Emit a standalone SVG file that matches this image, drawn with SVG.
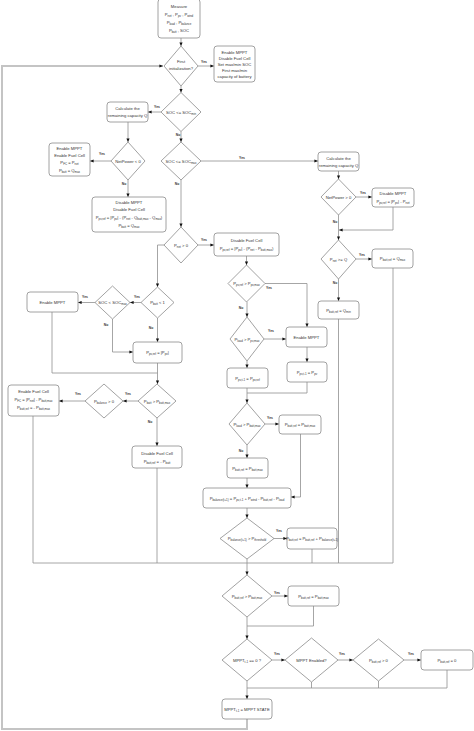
<svg xmlns="http://www.w3.org/2000/svg" width="474" height="731" viewBox="0 0 474 731">
<defs>
<style>
.b{fill:#fff;stroke:#8a8a8a;stroke-width:0.8}
.d{fill:#fff;stroke:#8a8a8a;stroke-width:0.8}
.c{fill:none;stroke:#8f8f8f;stroke-width:0.8}
.loop{fill:none;stroke:#c4c4c4;stroke-width:2}
.t{font-family:"Liberation Sans",Arial,sans-serif;font-size:4.2px;fill:#333;text-anchor:middle}
.s{font-size:2.9px;baseline-shift:-0.9px}
.l{font-family:"Liberation Sans",Arial,sans-serif;font-size:3.4px;font-weight:bold;fill:#333;text-anchor:middle}
</style>
<marker id="a" markerWidth="4" markerHeight="4" refX="3.6" refY="2" orient="auto" markerUnits="userSpaceOnUse"><path d="M0,0.4 L3.6,2 L0,3.6 z" fill="#111"/></marker>
</defs>
<rect width="474" height="731" fill="#fff"/>

<g id="connectors">
<path class="loop" d="M247,719 V729 H2 V66 H163" marker-end="url(#a)"/>
<path class="c" d="M181,38 V46" marker-end="url(#a)"/>
<path class="c" d="M198,66 H214" marker-end="url(#a)"/>
<path class="c" d="M181,86 V92.5" marker-end="url(#a)"/>
<path class="c" d="M161,112 H148" marker-end="url(#a)"/>
<path class="c" d="M201,161 H318" marker-end="url(#a)"/>
<path class="c" d="M181,131.5 V142" marker-end="url(#a)"/>
<path class="c" d="M128,122 V142" marker-end="url(#a)"/>
<path class="c" d="M111,161 H90" marker-end="url(#a)"/>
<path class="c" d="M128,180 V197" marker-end="url(#a)"/>
<path class="c" d="M338.5,171 V179" marker-end="url(#a)"/>
<path class="c" d="M356,197 H372" marker-end="url(#a)"/>
<path class="c" d="M338.5,215 V240" marker-end="url(#a)"/>
<path class="c" d="M393,207 V230 H339" marker-end="url(#a)"/>
<path class="c" d="M356,259 H372" marker-end="url(#a)"/>
<path class="c" d="M338.5,279 V301" marker-end="url(#a)"/>
<path class="c" d="M393,268 V563 H33 V416"/>
<path class="c" d="M338.5,319 V563"/>
<path class="c" d="M181,180 V227" marker-end="url(#a)"/>
<path class="c" d="M198,245 H214" marker-end="url(#a)"/>
<path class="c" d="M164,245 H157.5 V287" marker-end="url(#a)"/>
<path class="c" d="M246.5,256 V265" marker-end="url(#a)"/>
<path class="c" d="M265,283.5 H307 V327" marker-end="url(#a)"/>
<path class="c" d="M247,302 V317" marker-end="url(#a)"/>
<path class="c" d="M264,339 H286" marker-end="url(#a)"/>
<path class="c" d="M307,347 V362" marker-end="url(#a)"/>
<path class="c" d="M247,361 V368" marker-end="url(#a)"/>
<path class="c" d="M247,388 V403" marker-end="url(#a)"/>
<path class="c" d="M307,382 V393 H247"/>
<path class="c" d="M265,424 H279" marker-end="url(#a)"/>
<path class="c" d="M300.5,434 V497 H291" marker-end="url(#a)"/>
<path class="c" d="M247,445 V458" marker-end="url(#a)"/>
<path class="c" d="M247,478 V488" marker-end="url(#a)"/>
<path class="c" d="M247,508 V518" marker-end="url(#a)"/>
<path class="c" d="M274,538.5 H287" marker-end="url(#a)"/>
<path class="c" d="M312,549 V563"/>
<path class="c" d="M247,559 V575" marker-end="url(#a)"/>
<path class="c" d="M157,468 V563"/>
<path class="c" d="M141,302.5 H130" marker-end="url(#a)"/>
<path class="c" d="M95,302.5 H78" marker-end="url(#a)"/>
<path class="c" d="M157.5,318 V342" marker-end="url(#a)"/>
<path class="c" d="M112.5,319 V352 H133" marker-end="url(#a)"/>
<path class="c" d="M52,312 V373 H157.5"/>
<path class="c" d="M157.5,363 V384" marker-end="url(#a)"/>
<path class="c" d="M138,401 H123" marker-end="url(#a)"/>
<path class="c" d="M85,401 H59" marker-end="url(#a)"/>
<path class="c" d="M157,418 V446" marker-end="url(#a)"/>
<path class="c" d="M272,596 H288" marker-end="url(#a)"/>
<path class="c" d="M313.5,606 V626 H247"/>
<path class="c" d="M247,617 V639" marker-end="url(#a)"/>
<path class="c" d="M272,660 H285" marker-end="url(#a)"/>
<path class="c" d="M338,660 H353" marker-end="url(#a)"/>
<path class="c" d="M404,660 H421" marker-end="url(#a)"/>
<path class="c" d="M447,670 V688 H247"/>
<path class="c" d="M378.5,681 V688"/>
<path class="c" d="M311.5,682 V688"/>
<path class="c" d="M247,681 V699" marker-end="url(#a)"/>
<text class="l" x="204" y="63">Yes</text>
<text class="l" x="157" y="108">Yes</text>
<text class="l" x="178" y="136">No</text>
<text class="l" x="242" y="159">Yes</text>
<text class="l" x="177" y="185">No</text>
<text class="l" x="102" y="155">Yes</text>
<text class="l" x="124" y="185">No</text>
<text class="l" x="363" y="194">Yes</text>
<text class="l" x="335" y="223">No</text>
<text class="l" x="362" y="256">Yes</text>
<text class="l" x="335" y="284">No</text>
<text class="l" x="204" y="241">Yes</text>
<text class="l" x="269" y="289">Yes</text>
<text class="l" x="241" y="309">No</text>
<text class="l" x="271" y="332">Yes</text>
<text class="l" x="270" y="419">Yes</text>
<text class="l" x="241" y="452">No</text>
<text class="l" x="279" y="532">Yes</text>
<text class="l" x="137" y="298">Yes</text>
<text class="l" x="151" y="329">No</text>
<text class="l" x="85" y="298">Yes</text>
<text class="l" x="106" y="326">No</text>
<text class="l" x="128" y="395">Yes</text>
<text class="l" x="150" y="423">No</text>
<text class="l" x="78" y="395">Yes</text>
<text class="l" x="277" y="594">Yes</text>
<text class="l" x="277" y="655">Yes</text>
<text class="l" x="342" y="655">Yes</text>
<text class="l" x="411" y="655">Yes</text>
</g>

<g id="measure"><rect class="b" x="158" y="-1" width="42" height="39" rx="3"/>
<text class="t" x="179" y="8">Measure</text>
<text class="t" x="179" y="16">P<tspan class="s">net</tspan> , P<tspan class="s">pv</tspan> , P<tspan class="s">wind</tspan></text>
<text class="t" x="179" y="23.5">P<tspan class="s">load</tspan> , P<tspan class="s">balance</tspan></text>
<text class="t" x="179" y="31.5">P<tspan class="s">batt</tspan> , SOC</text></g>

<g id="first-init"><polygon class="d" points="181,46 198,66 181,86 164,66"/>
<text class="t" x="181" y="63">First</text>
<text class="t" x="181" y="69.5">initialization?</text></g>

<g id="init-box"><rect class="b" x="214" y="46" width="41" height="36" rx="3"/>
<text class="t" x="234.5" y="53.5">Enable MPPT</text>
<text class="t" x="234.5" y="59.5">Disable Fuel Cell</text>
<text class="t" x="234.5" y="65.5">Set max/min SOC</text>
<text class="t" x="234.5" y="71.5">First max/min</text>
<text class="t" x="234.5" y="77.5">capacity of battery</text></g>

<g id="soc-min"><polygon class="d" points="181,92.5 201,112 181,131.5 161,112"/>
<text class="t" x="181" y="113.5">SOC &lt;= SOC<tspan class="s">min</tspan></text></g>

<g id="calc-left"><rect class="b" x="107" y="102" width="41" height="20" rx="3"/>
<text class="t" x="127.5" y="110">Calculate the</text>
<text class="t" x="127.5" y="116.5">remaining capacity Q</text></g>

<g id="netpower-neg"><polygon class="d" points="128,142 145,161 128,180 111,161"/>
<text class="t" x="128" y="162.5">NetPower &lt; 0</text></g>

<g id="enable-fc"><rect class="b" x="49" y="143" width="41" height="33" rx="3"/>
<text class="t" x="69.5" y="150">Enable MPPT</text>
<text class="t" x="69.5" y="156.5">Enable Fuel Cell</text>
<text class="t" x="69.5" y="164">P<tspan class="s">FC</tspan> = P<tspan class="s">net</tspan></text>
<text class="t" x="69.5" y="172">P<tspan class="s">batt</tspan> = Q<tspan class="s">max</tspan></text></g>

<g id="disable-mppt-fc"><rect class="b" x="92" y="197" width="74" height="35" rx="3"/>
<text class="t" x="129" y="204">Disable MPPT</text>
<text class="t" x="129" y="210.5">Disable Fuel Cell</text>
<text class="t" x="129" y="218.5">P<tspan class="s">pv,ref</tspan> = |P<tspan class="s">pv</tspan>| - (P<tspan class="s">net</tspan> - Q<tspan class="s">batt,max</tspan> - Q<tspan class="s">max</tspan>)</text>
<text class="t" x="129" y="226.5">P<tspan class="s">batt</tspan> = Q<tspan class="s">max</tspan></text></g>

<g id="soc-max"><polygon class="d" points="181,142 201,161 181,180 161,161"/>
<text class="t" x="181" y="162.5">SOC &lt;= SOC<tspan class="s">max</tspan></text></g>

<g id="calc-right"><rect class="b" x="318" y="152" width="41" height="19" rx="3"/>
<text class="t" x="338.5" y="160">Calculate the</text>
<text class="t" x="338.5" y="166.5">remaining capacity Q</text></g>

<g id="netpower-pos"><polygon class="d" points="338.5,179 356,197 338.5,215 321,197"/>
<text class="t" x="338.5" y="198.5">NetPower &gt; 0</text></g>

<g id="disable-mppt"><rect class="b" x="372" y="188" width="42" height="19" rx="3"/>
<text class="t" x="393" y="195">Disable MPPT</text>
<text class="t" x="393" y="202.5">P<tspan class="s">pv,ref</tspan> = |P<tspan class="s">pv</tspan>| - P<tspan class="s">net</tspan></text></g>

<g id="pnet-ge-q"><polygon class="d" points="338.5,240 356,259 338.5,279 321,259"/>
<text class="t" x="338.5" y="260.5">P<tspan class="s">net</tspan> &gt;= Q</text></g>

<g id="batt-qmax"><rect class="b" x="372" y="249" width="41" height="19" rx="3"/>
<text class="t" x="392.5" y="260">P<tspan class="s">batt,ref</tspan> = Q<tspan class="s">max</tspan></text></g>

<g id="batt-qmin"><rect class="b" x="318" y="301" width="41" height="18" rx="3"/>
<text class="t" x="338.5" y="311.5">P<tspan class="s">batt,ref</tspan> = Q<tspan class="s">min</tspan></text></g>

<g id="pnet-pos"><polygon class="d" points="181,227 198,245 181,263 164,245"/>
<text class="t" x="181" y="246.5">P<tspan class="s">net</tspan> &gt; 0</text></g>

<g id="disable-fc"><rect class="b" x="214" y="233" width="65" height="23" rx="3"/>
<text class="t" x="246.5" y="242">Disable Fuel Cell</text>
<text class="t" x="246.5" y="250">P<tspan class="s">pv,ref</tspan> = |P<tspan class="s">pv</tspan>| - (P<tspan class="s">net</tspan> - P<tspan class="s">batt,max</tspan>)</text></g>

<g id="pvref-gt-pvmax"><polygon class="d" points="246.5,265 265,283.5 246.5,302 228,283.5"/>
<text class="t" x="246.5" y="285">P<tspan class="s">pv,ref</tspan> &gt; P<tspan class="s">pv,max</tspan></text></g>

<g id="pload-gt-pvmax"><polygon class="d" points="247,317 264,339 247,361 230,339"/>
<text class="t" x="247" y="340.5">P<tspan class="s">load</tspan> &gt; P<tspan class="s">pv,max</tspan></text></g>

<g id="enable-mppt-r"><rect class="b" x="286" y="327" width="41" height="20" rx="3"/>
<text class="t" x="306.5" y="338.5">Enable MPPT</text></g>

<g id="pvt1-pv"><rect class="b" x="287" y="362" width="40" height="20" rx="3"/>
<text class="t" x="307" y="373.5">P<tspan class="s">pv,t-1</tspan> = P<tspan class="s">pv</tspan></text></g>

<g id="pvt1-pvref"><rect class="b" x="227" y="368" width="41" height="20" rx="3"/>
<text class="t" x="247.5" y="379.5">P<tspan class="s">pv,t-1</tspan> = P<tspan class="s">pv,ref</tspan></text></g>

<g id="pload-gt-battmax"><polygon class="d" points="247,403 265,424 247,445 229,424"/>
<text class="t" x="247" y="425.5">P<tspan class="s">load</tspan> &gt; P<tspan class="s">batt,max</tspan></text></g>

<g id="battref-max-1"><rect class="b" x="279" y="415" width="42" height="19" rx="3"/>
<text class="t" x="300" y="426">P<tspan class="s">batt,ref</tspan> = P<tspan class="s">batt,max</tspan></text></g>

<g id="battref-max-2"><rect class="b" x="227" y="458" width="41" height="20" rx="3"/>
<text class="t" x="247.5" y="469.5">P<tspan class="s">batt,ref</tspan> = P<tspan class="s">batt,max</tspan></text></g>

<g id="balance"><rect class="b" x="203" y="488" width="88" height="20" rx="3"/>
<text class="t" x="247" y="499.5">P<tspan class="s">balance(t+1)</tspan> = P<tspan class="s">pv,t-1</tspan> + P<tspan class="s">wind</tspan> - P<tspan class="s">batt,ref</tspan> - P<tspan class="s">load</tspan></text></g>

<g id="balance-threshold"><polygon class="d" points="247,518 274,538.5 247,559 220,538.5"/>
<text class="t" x="247" y="540">P<tspan class="s">balance(t+1)</tspan> &gt; P<tspan class="s">threshold</tspan></text></g>

<g id="battref-add"><rect class="b" x="287" y="528" width="50" height="21" rx="3"/>
<text class="t" x="312" y="540">P<tspan class="s">batt,ref</tspan> = P<tspan class="s">batt,ref</tspan> + P<tspan class="s">balance(t+1)</tspan></text></g>

<g id="pbatt-lt-1"><polygon class="d" points="157.5,287 174,302.5 157.5,318 141,302.5"/>
<text class="t" x="157.5" y="304">P<tspan class="s">batt</tspan> &lt; 1</text></g>

<g id="soc-lt-max"><polygon class="d" points="112.5,286 130,302.5 112.5,319 95,302.5"/>
<text class="t" x="112.5" y="304">SOC &lt; SOC<tspan class="s">max</tspan></text></g>

<g id="enable-mppt-l"><rect class="b" x="27" y="292" width="51" height="20" rx="3"/>
<text class="t" x="52.5" y="303.5">Enable MPPT</text></g>

<g id="pvref-abs"><rect class="b" x="133" y="342" width="49" height="21" rx="3"/>
<text class="t" x="157.5" y="354">P<tspan class="s">pv,ref</tspan> = |P<tspan class="s">pv</tspan>|</text></g>

<g id="pbatt-gt-max"><polygon class="d" points="157,384 176,401 157,418 138,401"/>
<text class="t" x="157" y="402.5">P<tspan class="s">batt</tspan> &gt; P<tspan class="s">batt,max</tspan></text></g>

<g id="pbalance-pos"><polygon class="d" points="104,384 123,401 104,418 85,401"/>
<text class="t" x="104" y="402.5">P<tspan class="s">balance</tspan> &gt; 0</text></g>

<g id="enable-fc-2"><rect class="b" x="8" y="385" width="51" height="31" rx="3"/>
<text class="t" x="33.5" y="393">Enable Fuel Cell</text>
<text class="t" x="33.5" y="401">P<tspan class="s">FC</tspan> = |P<tspan class="s">net</tspan>| - P<tspan class="s">batt,max</tspan></text>
<text class="t" x="33.5" y="409">P<tspan class="s">batt,ref</tspan> = - P<tspan class="s">batt,max</tspan></text></g>

<g id="disable-fc-2"><rect class="b" x="132" y="446" width="50" height="22" rx="3"/>
<text class="t" x="157" y="454.5">Disable Fuel Cell</text>
<text class="t" x="157" y="462.5">P<tspan class="s">batt,ref</tspan> = - P<tspan class="s">batt</tspan></text></g>

<g id="battref-gt-max"><polygon class="d" points="247,575 272,596 247,617 222,596"/>
<text class="t" x="247" y="597.5">P<tspan class="s">batt,ref</tspan> &gt; P<tspan class="s">batt,max</tspan></text></g>

<g id="battref-max-3"><rect class="b" x="288" y="586" width="51" height="20" rx="3"/>
<text class="t" x="313.5" y="597.5">P<tspan class="s">batt,ref</tspan> = P<tspan class="s">batt,max</tspan></text></g>

<g id="mppt-zero"><polygon class="d" points="247,639 272,660 247,681 222,660"/>
<text class="t" x="247" y="661.5">MPPT<tspan class="s">t-1</tspan> == 0 ?</text></g>

<g id="mppt-enabled"><polygon class="d" points="311.5,638 338,660 311.5,682 285,660"/>
<text class="t" x="311.5" y="661.5">MPPT Enabled?</text></g>

<g id="battref-pos"><polygon class="d" points="378.5,639 404,660 378.5,681 353,660"/>
<text class="t" x="378.5" y="661.5">P<tspan class="s">batt,ref</tspan> &gt; 0</text></g>

<g id="battref-zero"><rect class="b" x="421" y="650" width="52" height="20" rx="3"/>
<text class="t" x="447" y="661.5">P<tspan class="s">batt,ref</tspan> = 0</text></g>

<g id="mppt-state"><rect class="b" x="222" y="699" width="50" height="20" rx="3"/>
<text class="t" x="247" y="710.5">MPPT<tspan class="s">t-1</tspan> = MPPT STATE</text></g>
</svg>
